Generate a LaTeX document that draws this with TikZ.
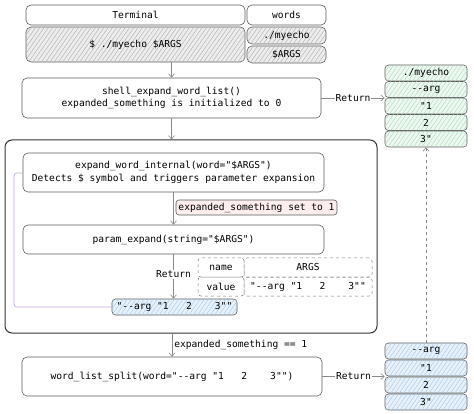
\documentclass[tikz,border=0pt]{standalone}
\usepackage{fontspec}
\setmonofont{DejaVu Sans Mono}
\usetikzlibrary{arrows.meta,patterns.meta}
\definecolor{edgec}{HTML}{5A5A5A}
\definecolor{arrc}{HTML}{8A8A8A}
\definecolor{grayfill}{HTML}{EDEDED}
\definecolor{grayhatch}{HTML}{B4B4B4}
\definecolor{greenfill}{HTML}{EDF8F0}
\definecolor{greenhatch}{HTML}{B5DEC0}
\definecolor{bluefill}{HTML}{E6F1FB}
\definecolor{bluehatch}{HTML}{AECCE8}
\definecolor{pinkfill}{HTML}{FDEDED}
\definecolor{loopc}{HTML}{C7A6D6}
\newcommand{\blk}[1]{\hphantom{#1}}
\tikzset{
  txt/.style={font=\ttfamily\fontsize{9.6}{12.5}\selectfont},
  box/.style={txt, draw=edgec, line width=0.6pt, rounded corners=5pt, align=center, inner sep=0pt},
  hgray/.style={fill=grayfill, postaction={pattern={Lines[angle=55,distance=3.5pt,line width=0.5pt]}, pattern color=grayhatch}},
  hgreen/.style={fill=greenfill, postaction={pattern={Lines[angle=55,distance=3.5pt,line width=0.5pt]}, pattern color=greenhatch}},
  hblue/.style={fill=bluefill, postaction={pattern={Lines[angle=55,distance=3.5pt,line width=0.5pt]}, pattern color=bluehatch}},
  cell/.style={txt, draw=edgec!80, dashed, line width=0.5pt, rounded corners=3pt, inner sep=0pt},
  arr/.style={draw=arrc, line width=0.6pt, -{Straight Barb[length=3.5pt,width=6pt]}},
  lbl/.style={txt, fill=white, inner sep=1pt},
  stk/.style={box, minimum width=82pt, minimum height=16pt, rounded corners=3.5pt}
}
\begin{document}
\begin{tikzpicture}[x=1pt,y=-1pt]
\useasboundingbox (0,0) rectangle (474,414);
% terminal
\node[box, minimum width=219pt, minimum height=20pt] (term) at (135.5,15) {Terminal};
\node[box, hgray, minimum width=219pt, minimum height=35pt] (cmd) at (135.5,44.5) {\$ ./myecho \$ARGS};
\node[box, minimum width=79pt, minimum height=20pt] (words) at (286.5,15) {words};
\node[box, hgray, minimum width=79pt, minimum height=17pt] (w1) at (286.5,35.5) {./myecho};
\node[box, hgray, minimum width=79pt, minimum height=17pt] (w2) at (286.5,54.5) {\$ARGS};
% shell_expand_word_list
\node[box, minimum width=299pt, minimum height=40pt] (shell) at (171.5,98) {shell\_expand\_word\_list()\\expanded\_something is initialized to 0};
% green stack
\node[stk, hgreen] (g1) at (426,73) {./myecho};
\node[stk, hgreen] (g2) at (426,89.5) {--arg};
\node[stk, hgreen] (g3) at (426,106) {"1};
\node[stk, hgreen] (g4) at (426,122.5) {2};
\node[stk, hgreen] (g5) at (426,139) {3"};
% big container
\node[draw=black!80, line width=1pt, rounded corners=7pt, minimum width=372pt, minimum height=193pt] (big) at (191,236.5) {};
\node[box, minimum width=301pt, minimum height=39pt] (ewi) at (173.5,172.5) {expand\_word\_internal(word="\$ARGS")\\Detects \$ symbol and triggers parameter expansion};
\node[box, minimum width=301pt, minimum height=29pt] (pe) at (173.5,239.5) {param\_expand(string="\$ARGS")};
\node[box, fill=pinkfill, rounded corners=3pt, minimum width=161pt, minimum height=15pt] (pink) at (256.5,207.5) {expanded\_something set to 1};
% table
\node[cell, minimum width=46pt, minimum height=19pt] (tname) at (221,267.5) {name};
\node[cell, minimum width=128pt, minimum height=19pt] (targs) at (308,267.5) {ARGS};
\node[cell, minimum width=46pt, minimum height=19pt] (tval) at (221,286.5) {value};
\node[cell, minimum width=128pt, minimum height=19pt] (tvtext) at (308,286.5) {"--arg "1\blk{000}2\blk{0000}3""};
% blue result
\node[box, hblue, rounded corners=3.5pt, minimum width=125pt, minimum height=16pt] (blue) at (174.5,307) {"--arg "1\blk{000}2\blk{0000}3""};
% word_list_split
\node[box, minimum width=300pt, minimum height=39pt] (wls) at (172,376.5) {word\_list\_split(word="--arg "1\blk{000}2\blk{0000}3"")};
% blue stack
\node[stk, hblue] (b1) at (426,351) {--arg};
\node[stk, hblue] (b2) at (426,368) {"1};
\node[stk, hblue] (b3) at (426,385) {2};
\node[stk, hblue] (b4) at (426,402) {3"};
% connectors
\draw[arr] (shell.north |- cmd.south) -- (shell.north);
\draw[arr] (shell.east) -- node[lbl]{Return} (shell.east -| g1.west);
\draw[arr] (shell.south) -- (shell.south |- big.north);
\draw[arr] (ewi.south) -- (pe.north);
\draw[arr] (pe.south) -- node[lbl, pos=0.45]{Return} (pe.south |- blue.north);
\coordinate (lc) at (14,173);
\draw[draw=loopc, line width=0.7pt, rounded corners=3pt] (blue.west) -| (lc) -- (lc -| ewi.west);
\draw[arr] (wls.north |- big.south) -- node[right, txt, inner sep=2pt]{expanded\_something == 1} (wls.north);
\draw[arr] (wls.east) -- node[lbl]{Return} (wls.east -| b1.west);
\draw[arr, dashed] (b1.north) -- (g5.south);
\end{tikzpicture}
\end{document}
